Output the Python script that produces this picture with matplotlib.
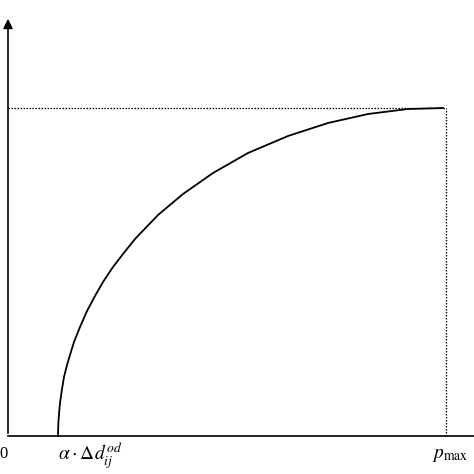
import matplotlib
matplotlib.use("Agg")
import matplotlib.pyplot as plt

plt.rcParams['font.family'] = ['Liberation Serif', 'DejaVu Serif']
plt.rcParams['mathtext.fontset'] = 'stix'

curve_x = [50, 50.3, 51, 52, 54, 56, 59, 62, 66, 72, 79, 87, 95, 105, 115, 127, 150, 175, 205, 240, 280, 320, 360, 400, 435]
curve_y = [0, 12, 22, 33, 47, 59, 71, 81, 94, 109, 125, 140, 154, 169, 182, 197, 221, 242, 263, 283, 300, 313, 322, 327, 328]
p_max_x = 438
y_max = 328
alpha_x = 50

fig = plt.figure(figsize=(4.74, 4.74), dpi=100)
ax = fig.add_axes([0, 0, 1, 1])
ax.set_xlim(-8, 466)
ax.set_ylim(-38, 436)
ax.axis('off')

ax.plot([0, 466], [0, 0], color='black', lw=1.2)
ax.annotate('', xy=(0, 420), xytext=(0, 0),
            arrowprops=dict(arrowstyle='-|>', color='black', lw=1.2, mutation_scale=14))
ax.plot(curve_x, curve_y, color='black', lw=1.3)
ax.plot([0, p_max_x], [y_max, y_max], color='black', lw=0.9, ls=(0, (1.2, 1.2)))
ax.plot([p_max_x, p_max_x], [0, y_max], color='black', lw=0.9, ls=(0, (1.2, 1.2)))

ax.text(-5, -18, '0', fontsize=12, ha='center', va='center')
ax.text(alpha_x + 32, -20, r'$\alpha\cdot\Delta d_{ij}^{od}$', fontsize=14, ha='center', va='center')
ax.text(p_max_x + 4, -20, r'$p_{\mathrm{max}}$', fontsize=14, ha='center', va='center')

fig.savefig('out.png', dpi=100)
